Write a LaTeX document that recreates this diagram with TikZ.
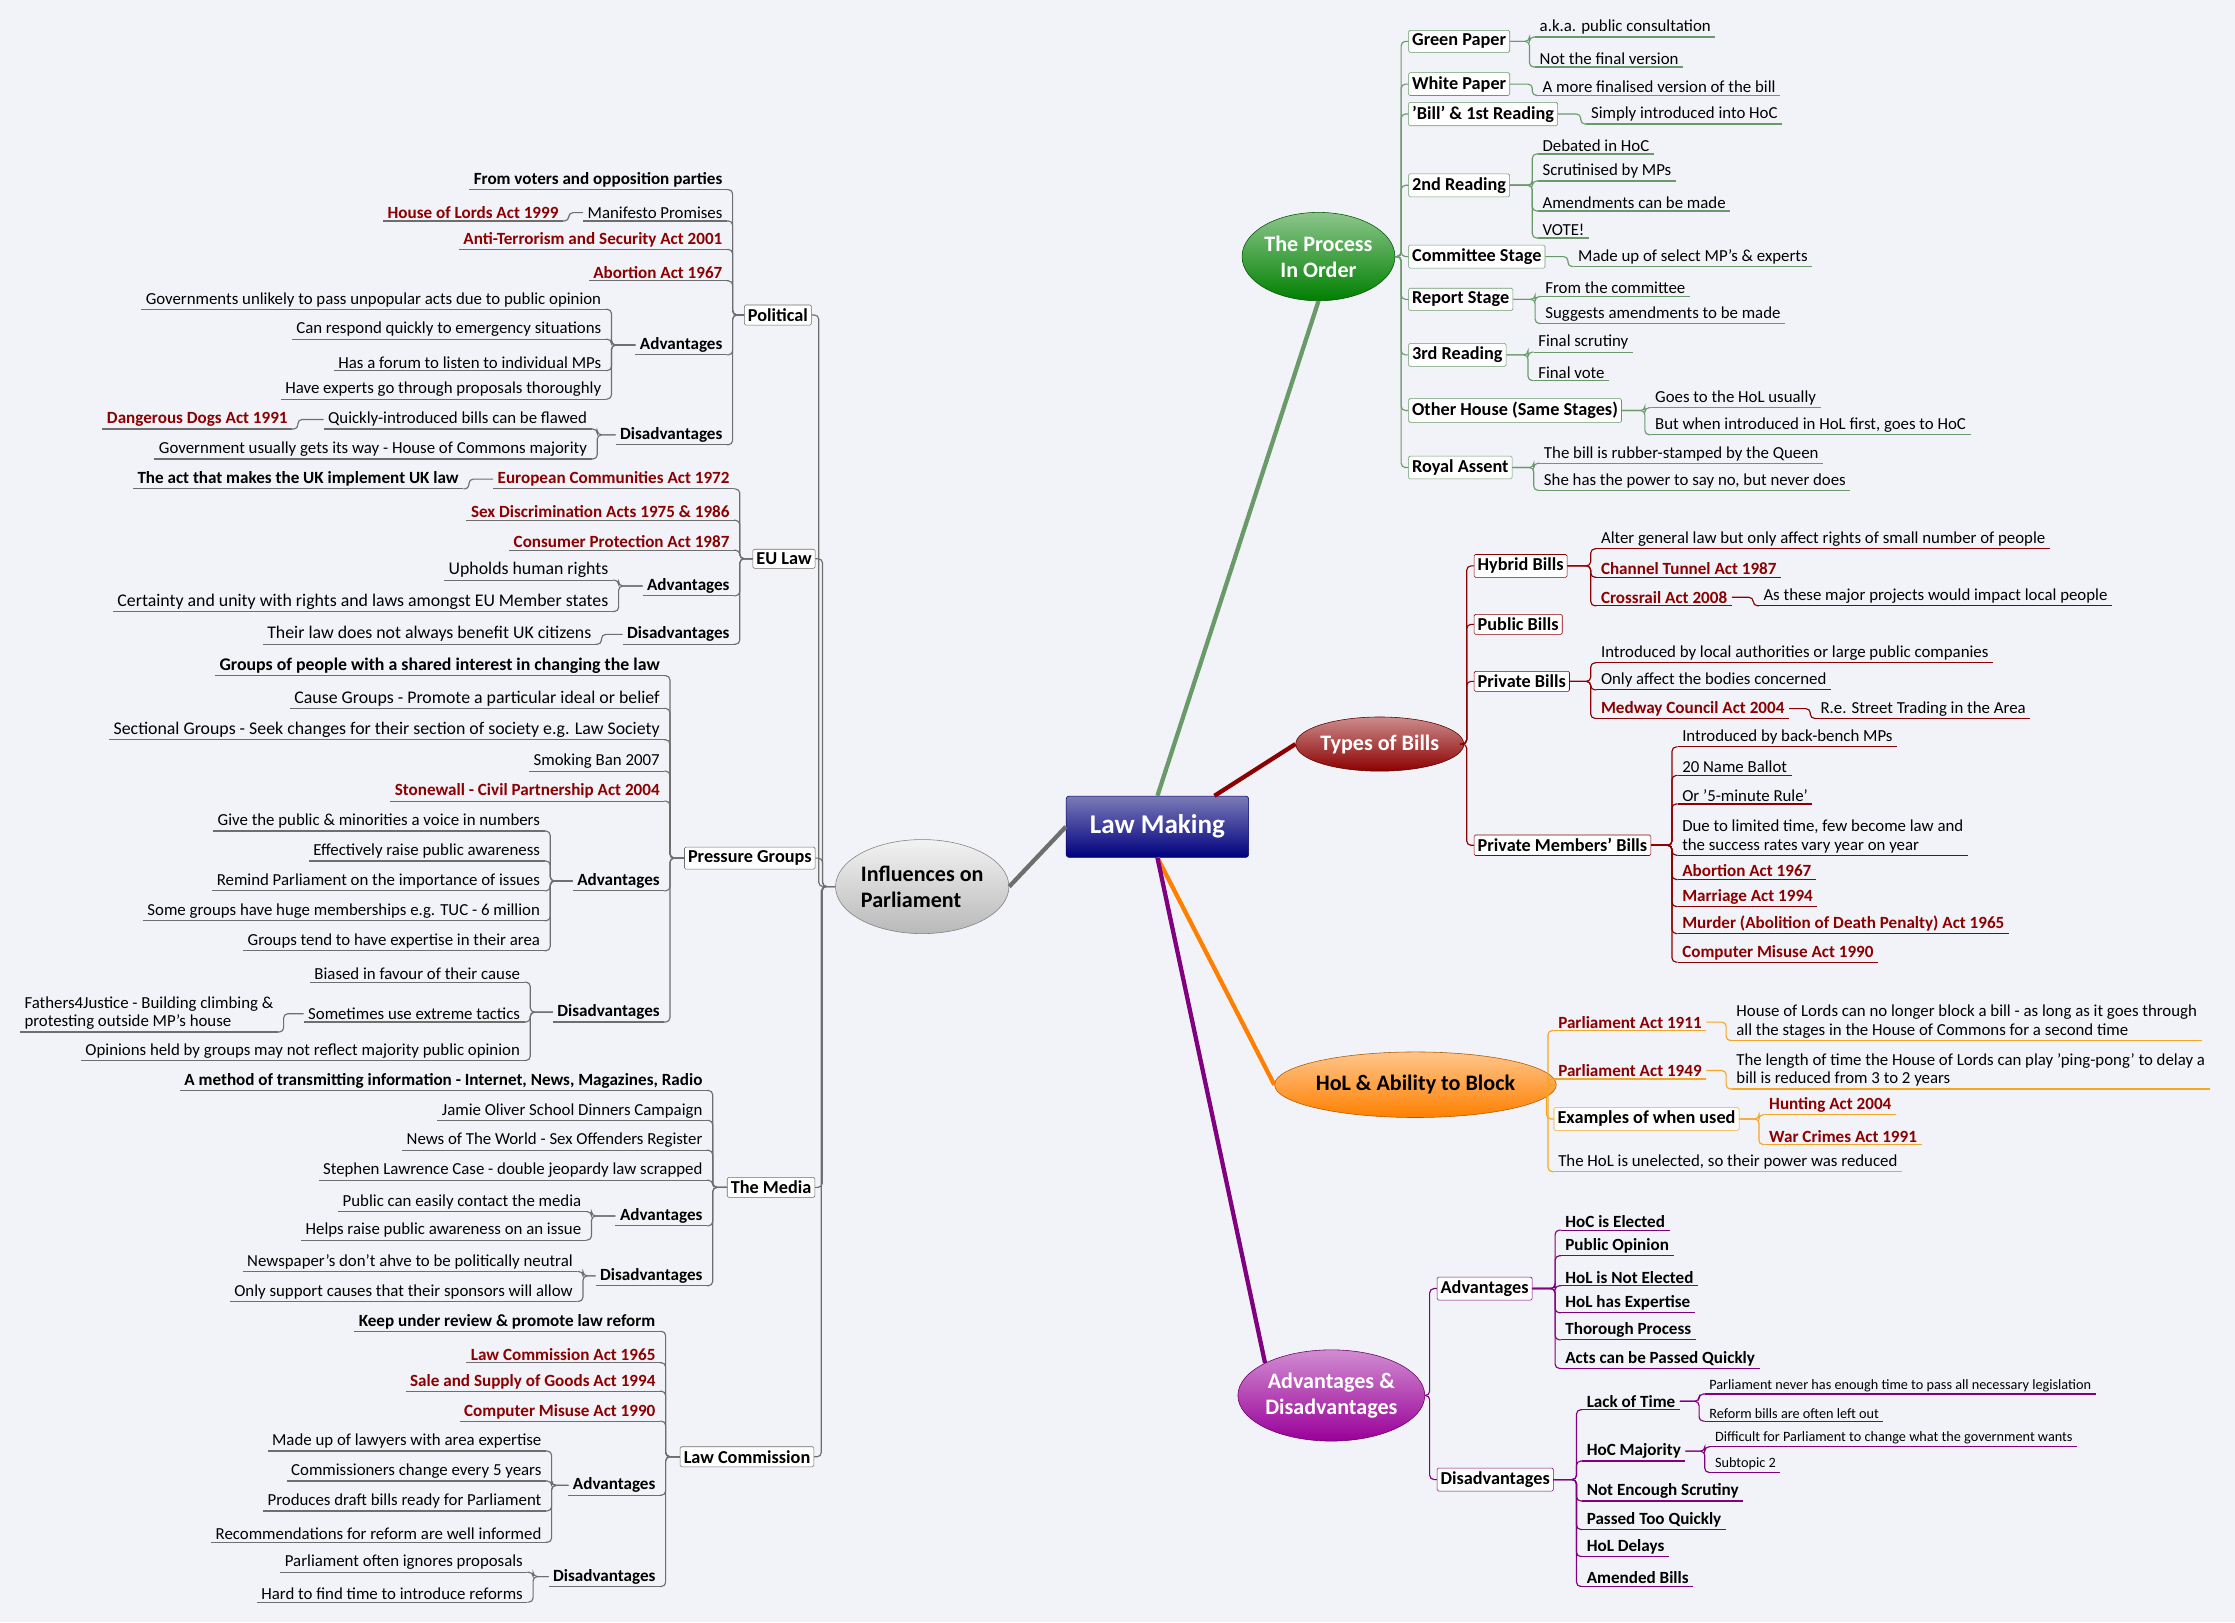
\documentclass[tikz,border=0pt]{standalone}
\usepackage{fontspec}
\setmainfont{Carlito}
\usetikzlibrary{shapes.geometric}
\begin{document}
\definecolor{bg}{HTML}{F2F3F8}
\definecolor{gl}{HTML}{6E6E6E}
\definecolor{grn}{HTML}{6A9A6A}
\definecolor{rl}{HTML}{8B0000}
\definecolor{org}{HTML}{F5A623}
\definecolor{pur}{HTML}{800080}
\definecolor{rt}{HTML}{8B0000}
\colorlet{lc}{gl}
\newcommand\cnL[2]{\draw[con] (#2.south east) -- ++(4,0) |- (#1.west);}
\newcommand\cnR[2]{\draw[con] (#2.south west) -- ++(-4,0) |- (#1.east);}
\newcommand\bxR[2]{\draw[con] (#2.west) -- ++(-5,0) |- (#1.east);}
\begin{tikzpicture}[x=1pt,y=-1pt,font=\fontsize{11.8}{13}\selectfont,
 lf/.style={inner xsep=3pt,inner ysep=1.5pt,align=left,
   append after command={(\tikzlastnode.south west) edge[draw=lc,line width=0.8pt] (\tikzlastnode.south east)}},
 b/.style={font=\fontsize{12}{13}\selectfont\bfseries},
 rd/.style={font=\fontsize{12}{13}\selectfont\bfseries,text=rt},
 big/.style={font=\fontsize{12.5}{14}\selectfont},
 sm/.style={font=\fontsize{10}{11}\selectfont},
 L/.style={lf,anchor=south east}, R/.style={lf,anchor=south west},
 box/.style={draw=lc,fill=white,font=\fontsize{12.8}{14}\selectfont\bfseries,inner sep=2.5pt,rounded corners=1pt,anchor=#1},
 box/.default=west,
 con/.style={draw=lc,line width=0.8pt,rounded corners=3pt},
 ell/.style={ellipse,draw=#1!70!black,top color=#1!45!white,bottom color=#1,text=white,font=\fontsize{15.5}{18}\selectfont\bfseries,align=center,inner sep=0pt}]
\fill[bg] (0,0) rectangle (1568,1138);
\useasboundingbox (0,0) rectangle (1568,1138);
% central
\node[draw=blue!40!black,top color=blue!30!gray!80,bottom color=blue!50!black,text=white,font=\fontsize{19}{22}\selectfont\bfseries,minimum width=128pt,minimum height=43pt,rounded corners=2pt] (lm) at (812,580) {Law Making};
\node[ellipse,draw=gray,top color=gray!10,bottom color=gray!55,font=\fontsize{15.5}{18}\selectfont\bfseries,align=left,inner sep=0pt,minimum width=112pt,minimum height=66pt] (inf) at (647,622) {Influences on\\Parliament};
\node[ell=green!50!black,minimum width=96pt,minimum height=62pt] (proc) at (925,180) {The Process\\In Order};
\node[ell=red!55!black,minimum width=98pt,minimum height=38pt] (tob) at (968,522) {Types of Bills};
\node[ell=orange,minimum width=164pt,minimum height=46pt,text=black] (hol) at (993,761) {HoL \& Ability to Block};
\node[ell=violet!80!magenta,minimum width=116pt,minimum height=64pt] (ad) at (934,979) {Advantages \&\\Disadvantages};
\draw[gl,line width=3pt] (lm.west) -- (inf.east);
\draw[grn,line width=3pt] (lm.north) -- (proc.south);
\draw[rl,line width=3pt] (lm.north) ++(40,0) -- (tob.west);
\draw[orange,line width=3pt] (lm.south) -- (hol.west);
\draw[pur,line width=3pt] (lm.south) -- (ad.north west);
% ================= LEFT
\node[box] (pol) at (522,221) {Political};
\node[box] (eu) at (528,392) {EU Law};
\node[box] (pg) at (480,602) {Pressure Groups};
\node[box] (med) at (510,833) {The Media};
\node[box] (lcm) at (477,1022) {Law Commission};
\foreach \n in {pol,eu,pg,med,lcm}{\draw[con] (\n.east) -- ++(5,0) |- (inf.west);}
% Political
\node[L,b] (p1) at (510,133) {From voters and opposition parties};
\node[L] (p2) at (510,155) {Manifesto Promises};
\node[L,rd] (p2a) at (395,155) {House of Lords Act 1999};
\node[L,rd] (p3) at (510,175) {Anti-Terrorism and Security Act 2001};
\node[L,rd] (p4) at (510,197) {Abortion Act 1967};
\node[L,b] (pa) at (510,249) {Advantages};
\node[L] (pa1) at (425,217) {Governments unlikely to pass unpopular acts due to public opinion};
\node[L] (pa2) at (425,238) {Can respond quickly to emergency situations};
\node[L] (pa3) at (425,260) {Has a forum to listen to individual MPs};
\node[L] (pa4) at (425,280) {Have experts go through proposals thoroughly};
\node[L,b] (pd) at (510,312) {Disadvantages};
\node[L] (pd1) at (415,301) {Quickly-introduced bills can be flawed};
\node[L,rd] (pd1a) at (205,301) {Dangerous Dogs Act 1991};
\node[L] (pd2) at (415,322) {Government usually gets its way - House of Commons majority};
\foreach \c in {p1,p2,p3,p4,pa,pd}{\cnL{pol}{\c}}
\foreach \c in {pa1,pa2,pa3,pa4}{\cnL{pa}{\c}}
\foreach \c in {pd1,pd2}{\cnL{pd}{\c}}
\cnL{p2}{p2a} \cnL{pd1}{pd1a}
% EU
\node[L,rd] (e1) at (515,343) {European Communities Act 1972};
\node[L,b] (e1a) at (325,343) {The act that makes the UK implement UK law};
\node[L,rd] (e2) at (515,365) {Sex Discrimination Acts 1975 \& 1986};
\node[L,rd] (e3) at (515,386) {Consumer Protection Act 1987};
\node[L,b] (ea) at (515,418) {Advantages};
\node[L,big] (ea1) at (430,407) {Upholds human rights};
\node[L,big] (ea2) at (430,429) {Certainty and unity with rights and laws amongst EU Member states};
\node[L,b] (ed) at (515,452) {Disadvantages};
\node[L,big] (ed1) at (418,452) {Their law does not always benefit UK citizens};
\foreach \c in {e1,e2,e3,ea,ed}{\cnL{eu}{\c}}
\cnL{e1}{e1a} \cnL{ea}{ea1} \cnL{ea}{ea2} \cnL{ed}{ed1}
% Pressure groups
\node[L,font=\fontsize{12.5}{14}\selectfont\bfseries] (g1) at (466,474) {Groups of people with a shared interest in changing the law};
\node[L,big] (g2) at (466,497) {Cause Groups - Promote a particular ideal or belief};
\node[L,big] (g3) at (466,519) {Sectional Groups - Seek changes for their section of society e.g. Law Society};
\node[L] (g4) at (466,541) {Smoking Ban 2007};
\node[L,rd] (g5) at (466,562) {Stonewall - Civil Partnership Act 2004};
\node[L,b] (ga) at (466,625) {Advantages};
\node[L] (ga1) at (382,583) {Give the public \& minorities a voice in numbers};
\node[L] (ga2) at (382,604) {Effectively raise public awareness};
\node[L] (ga3) at (382,625) {Remind Parliament on the importance of issues};
\node[L] (ga4) at (382,646) {Some groups have huge memberships e.g. TUC - 6 million};
\node[L] (ga5) at (382,667) {Groups tend to have expertise in their area};
\node[L,b] (gd) at (466,717) {Disadvantages};
\node[L] (gd1) at (368,689) {Biased in favour of their cause};
\node[L] (gd2) at (368,717) {Sometimes use extreme tactics};
\node[L] (gd2a) at (195,724) {Fathers4Justice - Building climbing \&\\protesting outside MP's house};
\node[L] (gd3) at (368,744) {Opinions held by groups may not reflect majority public opinion};
\foreach \c in {g1,g2,g3,g4,g5,ga,gd}{\cnL{pg}{\c}}
\foreach \c in {ga1,ga2,ga3,ga4,ga5}{\cnL{ga}{\c}}
\foreach \c in {gd1,gd2,gd3}{\cnL{gd}{\c}}
\cnL{gd2}{gd2a}
% Media
\node[L,b] (m1) at (496,765) {A method of transmitting information - Internet, News, Magazines, Radio};
\node[L] (m2) at (496,786) {Jamie Oliver School Dinners Campaign};
\node[L] (m3) at (496,807) {News of The World - Sex Offenders Register};
\node[L] (m4) at (496,828) {Stephen Lawrence Case - double jeopardy law scrapped};
\node[L,b] (ma) at (496,860) {Advantages};
\node[L] (ma1) at (411,850) {Public can easily contact the media};
\node[L] (ma2) at (411,870) {Helps raise public awareness on an issue};
\node[L,b] (md) at (496,902) {Disadvantages};
\node[L] (md1) at (405,892) {Newspaper's don't ahve to be politically neutral};
\node[L] (md2) at (405,913) {Only support causes that their sponsors will allow};
\foreach \c in {m1,m2,m3,m4,ma,md}{\cnL{med}{\c}}
\cnL{ma}{ma1} \cnL{ma}{ma2} \cnL{md}{md1} \cnL{md}{md2}
% Law commission
\node[L,b] (l1) at (463,934) {Keep under review \& promote law reform};
\node[L,rd] (l2) at (463,956) {Law Commission Act 1965};
\node[L,rd] (l3) at (463,976) {Sale and Supply of Goods Act 1994};
\node[L,rd] (l4) at (463,997) {Computer Misuse Act 1990};
\node[L,b] (la) at (463,1049) {Advantages};
\node[L] (la1) at (383,1018) {Made up of lawyers with area expertise};
\node[L] (la2) at (383,1039) {Commissioners change every 5 years};
\node[L] (la3) at (383,1060) {Produces draft bills ready for Parliament};
\node[L] (la4) at (383,1082) {Recommendations for reform are well informed};
\node[L,b] (ld) at (463,1113) {Disadvantages};
\node[L] (ld1) at (370,1103) {Parliament often ignores proposals};
\node[L] (ld2) at (370,1124) {Hard to find time to introduce reforms};
\foreach \c in {l1,l2,l3,l4,la,ld}{\cnL{lcm}{\c}}
\foreach \c in {la1,la2,la3,la4}{\cnL{la}{\c}}
\cnL{ld}{ld1} \cnL{ld}{ld2}
% ================= PROCESS
\colorlet{lc}{grn}
\node[box] (b1) at (988,29) {Green Paper};
\node[box] (b2) at (988,59) {White Paper};
\node[box] (b3) at (988,80) {'Bill' \& 1st Reading};
\node[box] (b4) at (988,130) {2nd Reading};
\node[box] (b5) at (988,180) {Committee Stage};
\node[box] (b6) at (988,210) {Report Stage};
\node[box] (b7) at (988,249) {3rd Reading};
\node[box] (b8) at (988,288) {Other House (Same Stages)};
\node[box] (b9) at (988,328) {Royal Assent};
\foreach \n in {b1,b2,b3,b4,b5,b6,b7,b8,b9}{\bxR{proc}{\n}}
\node[R] (b1a) at (1077,26) {a.k.a. public consultation};
\node[R] (b1b) at (1077,47) {Not the final version};
\node[R] (b2a) at (1079,67) {A more finalised version of the bill};
\node[R] (b3a) at (1113,87) {Simply introduced into HoC};
\node[R] (b4a) at (1079,108) {Debated in HoC};
\node[R] (b4b) at (1079,127) {Scrutinised by MPs};
\node[R] (b4c) at (1079,148) {Amendments can be made};
\node[R] (b4d) at (1079,167) {VOTE!};
\node[R] (b5a) at (1104,187) {Made up of select MP's \& experts};
\node[R] (b6a) at (1081,208) {From the committee};
\node[R] (b6b) at (1081,227) {Suggests amendments to be made};
\node[R] (b7a) at (1076,247) {Final scrutiny};
\node[R] (b7b) at (1076,267) {Final vote};
\node[R] (b8a) at (1158,286) {Goes to the HoL usually};
\node[R] (b8b) at (1158,305) {But when introduced in HoL first, goes to HoC};
\node[R] (b9a) at (1080,325) {The bill is rubber-stamped by the Queen};
\node[R] (b9b) at (1080,344) {She has the power to say no, but never does};
\cnR{b1}{b1a} \cnR{b1}{b1b} \cnR{b2}{b2a} \cnR{b3}{b3a}
\foreach \c in {b4a,b4b,b4c,b4d}{\cnR{b4}{\c}}
\cnR{b5}{b5a} \cnR{b6}{b6a} \cnR{b6}{b6b} \cnR{b7}{b7a} \cnR{b7}{b7b}
\cnR{b8}{b8a} \cnR{b8}{b8b} \cnR{b9}{b9a} \cnR{b9}{b9b}
% ================= TYPES
\colorlet{lc}{rl}
\node[box] (t1) at (1034,397) {Hybrid Bills};
\node[box] (t2) at (1034,438) {Public Bills};
\node[box] (t3) at (1034,478) {Private Bills};
\node[box] (t4) at (1034,593) {Private Members' Bills};
\foreach \n in {t1,t2,t3,t4}{\bxR{tob}{\n}}
\node[R] (t1a) at (1120,385) {Alter general law but only affect rights of small number of people};
\node[R,rd] (t1b) at (1120,405) {Channel Tunnel Act 1987};
\node[R,rd] (t1c) at (1120,425) {Crossrail Act 2008};
\node[R] (t1d) at (1234,425) {As these major projects would impact local people};
\node[R] (t3a) at (1120,465) {Introduced by local authorities or large public companies};
\node[R] (t3b) at (1120,484) {Only affect the bodies concerned};
\node[R,rd] (t3c) at (1120,504) {Medway Council Act 2004};
\node[R] (t3d) at (1274,504) {R.e. Street Trading in the Area};
\node[R] (t4a) at (1177,524) {Introduced by back-bench MPs};
\node[R] (t4b) at (1177,544) {20 Name Ballot};
\node[R] (t4c) at (1177,564) {Or '5-minute Rule'};
\node[R] (t4d) at (1177,600) {Due to limited time, few become law and\\the success rates vary year on year};
\node[R,rd] (t4e) at (1177,617) {Abortion Act 1967};
\node[R,rd] (t4f) at (1177,636) {Marriage Act 1994};
\node[R,rd] (t4g) at (1177,655) {Murder (Abolition of Death Penalty) Act 1965};
\node[R,rd] (t4h) at (1177,675) {Computer Misuse Act 1990};
\cnR{t1}{t1a} \cnR{t1}{t1b} \cnR{t1}{t1c} \cnR{t1c}{t1d}
\cnR{t3}{t3a} \cnR{t3}{t3b} \cnR{t3}{t3c} \cnR{t3c}{t3d}
\foreach \c in {t4a,t4b,t4c,t4d,t4e,t4f,t4g,t4h}{\cnR{t4}{\c}}
% ================= HOL
\colorlet{lc}{org}
\node[R,rd] (h1) at (1090,723) {Parliament Act 1911};
\node[R] (h1a) at (1215,730) {House of Lords can no longer block a bill - as long as it goes through\\all the stages in the House of Commons for a second time};
\node[R,rd] (h2) at (1090,757) {Parliament Act 1949};
\node[R] (h2a) at (1215,764) {The length of time the House of Lords can play 'ping-pong' to delay a\\bill is reduced from 3 to 2 years};
\node[box] (h3) at (1090,785) {Examples of when used};
\node[R,rd] (h3a) at (1238,782) {Hunting Act 2004};
\node[R,rd] (h3b) at (1238,803) {War Crimes Act 1991};
\node[R] (h4) at (1090,822) {The HoL is unelected, so their power was reduced};
\cnR{hol}{h1} \cnR{hol}{h2} \bxR{hol}{h3} \cnR{hol}{h4}
\cnR{h1}{h1a} \cnR{h2}{h2a} \cnR{h3}{h3a} \cnR{h3}{h3b}
% ================= ADV/DIS
\colorlet{lc}{pur}
\node[box] (a1) at (1008,904) {Advantages};
\node[box] (a2) at (1008,1038) {Disadvantages};
\bxR{ad}{a1} \bxR{ad}{a2}
\node[R,b] (aa1) at (1095,863) {HoC is Elected};
\node[R,b] (aa2) at (1095,881) {Public Opinion};
\node[R,b] (aa3) at (1095,902) {HoL is Not Elected};
\node[R,b] (aa4) at (1095,921) {HoL has Expertise};
\node[R,b] (aa5) at (1095,940) {Thorough Process};
\node[R,b] (aa6) at (1095,960) {Acts can be Passed Quickly};
\foreach \c in {aa1,aa2,aa3,aa4,aa5,aa6}{\cnR{a1}{\c}}
\node[R,b] (ad1) at (1110,989) {Lack of Time};
\node[R,sm] (ad1a) at (1196,978) {Parliament never has enough time to pass all necessary legislation};
\node[R,sm] (ad1b) at (1196,997) {Reform bills are often left out};
\node[R,b] (ad2) at (1110,1025) {HoC Majority};
\node[R,sm] (ad2a) at (1200,1015) {Difficult for Parliament to change what the government wants};
\node[R,sm] (ad2b) at (1200,1033) {Subtopic 2};
\node[R,b] (ad3) at (1110,1053) {Not Encough Scrutiny};
\node[R,b] (ad4) at (1110,1073) {Passed Too Quickly};
\node[R,b] (ad5) at (1110,1092) {HoL Delays};
\node[R,b] (ad6) at (1110,1113) {Amended Bills};
\foreach \c in {ad1,ad2,ad3,ad4,ad5,ad6}{\cnR{a2}{\c}}
\cnR{ad1}{ad1a} \cnR{ad1}{ad1b} \cnR{ad2}{ad2a} \cnR{ad2}{ad2b}
\end{tikzpicture}
\end{document}
